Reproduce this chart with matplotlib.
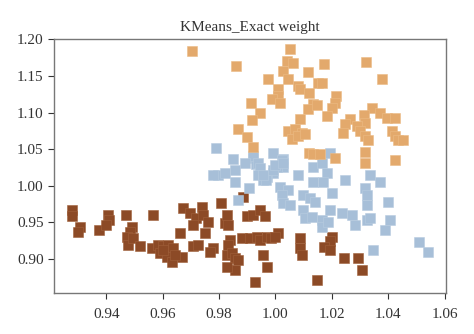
import matplotlib
matplotlib.use("Agg")
import matplotlib.pyplot as plt
import numpy as np

# cluster 0 (brown, low weight)
brown_x = [0.9277, 0.9277, 0.9307, 0.9301, 0.9375, 0.9407, 0.9410, 0.9401, 0.9470,
           0.9490, 0.9484, 0.9472, 0.9478, 0.9496, 0.9520, 0.9565,
           0.9561, 0.9584, 0.9602, 0.9620, 0.9638, 0.9590, 0.9614, 0.9632, 0.9667, 0.9602, 0.9644,
           0.9661, 0.9673, 0.9697, 0.9738, 0.9720, 0.9744, 0.9762, 0.9709,
           0.9750, 0.9709, 0.9726, 0.9779, 0.9768, 0.9806, 0.9821, 0.9827, 0.9833,
           0.9838, 0.9833, 0.9827, 0.9845, 0.9856, 0.9868, 0.9856, 0.9827, 0.9886,
           0.9898, 0.9921, 0.9945, 0.9963, 0.9880, 0.9910, 0.9933, 0.9945, 0.9969, 0.9986,
           1.0009, 0.9998, 0.9955, 0.9970, 0.9927, 1.0087, 1.0087, 1.0093, 1.0147,
           1.0200, 1.0194, 1.0171, 1.0194, 1.0244, 1.0294, 1.0306]
brown_y = [0.967, 0.958, 0.944, 0.937, 0.939, 0.960, 0.953, 0.9465, 0.960,
           0.944, 0.937, 0.930, 0.919, 0.928, 0.918, 0.960,
           0.915, 0.919, 0.917, 0.919, 0.915, 0.908, 0.903, 0.896, 0.903, 0.912, 0.9055,
           0.935, 0.969, 0.9625, 0.9715, 0.9556, 0.960, 0.951, 0.9465,
           0.935, 0.917, 0.919, 0.9146, 0.910, 0.977, 0.949, 0.960, 0.9465,
           0.926, 0.919, 0.9055, 0.908, 0.901, 0.899, 0.885, 0.8895, 0.985,
           0.958, 0.960, 0.967, 0.958, 0.928, 0.928, 0.9305, 0.926, 0.9305, 0.928,
           0.935, 0.9305, 0.9055, 0.8895, 0.869, 0.928, 0.9146, 0.9055, 0.871,
           0.9305, 0.924, 0.916, 0.912, 0.901, 0.901, 0.885]

# cluster 1 (blue, middle)
blue_x = [0.9790, 0.9850, 0.9921, 0.9992, 1.0028, 0.9932, 1.0195, 0.9921, 0.9939, 0.9945,
          1.0023, 1.0028, 1.0005, 0.9993, 0.9970, 0.9939, 0.9957, 1.0081,
          1.0134, 1.0164, 1.0182, 1.0170, 1.0134, 1.0247, 1.0336, 1.0371,
          1.0318, 1.0324, 1.0324, 1.0400, 1.0200, 1.0099, 1.0123, 1.0141,
          1.0017, 1.0046, 1.0023, 1.0028, 1.0052, 1.0099, 1.0105, 1.0129,
          1.0164, 1.0164, 1.0188, 1.0195, 1.0235, 1.0270, 1.0283,
          1.0324, 1.0336, 1.0406, 1.0388, 1.0347, 1.0510, 1.0542,
          0.9797, 0.9821, 0.9856, 0.9856, 0.9891, 0.9968, 0.9992, 0.9999, 1.0028,
          0.9868, 0.9907, 0.9956, 0.9779]
blue_y = [1.052, 1.036, 1.0385, 1.0453, 1.0363, 1.0294, 1.0453, 1.040, 1.031, 1.024,
          1.035, 1.026, 1.026, 1.017, 1.0125, 1.0148, 1.008, 1.0148,
          1.026, 1.031, 1.017, 1.0057, 1.0057, 1.008, 1.0148, 1.0057,
          0.9966, 0.9875, 0.9738, 0.9781, 0.9898, 0.9875, 0.983, 0.9784,
          0.9988, 0.9943, 0.9875, 0.9761, 0.9738, 0.967, 0.9556, 0.9578,
          0.9533, 0.9442, 0.951, 0.967, 0.9625, 0.960, 0.9465,
          0.9533, 0.9556, 0.9533, 0.9397, 0.9123, 0.9237, 0.910,
          1.0148, 1.0171, 1.0216, 1.0057, 1.031, 1.008, 1.0216, 1.0285, 1.031,
          0.9806, 0.9966, 1.0148, 1.0148]

# cluster 2 (orange, high weight)
orange_x = [0.9703, 1.0050, 0.9860, 1.0040, 1.0064, 1.0028, 1.0115, 0.9973, 1.0046, 1.0081,
            1.0087, 1.0119, 1.0009, 1.0009, 0.9988, 1.0017, 0.9914, 1.0134, 1.0117, 0.9947,
            0.9918, 1.0087, 0.9868, 0.9898, 0.9921,
            1.0046, 1.0070, 1.0094, 1.0058, 1.0081, 1.0105,
            1.0118, 1.0135, 1.0158, 1.0212,
            1.0150, 1.0174, 1.0321, 1.0378, 1.0165, 1.0214, 1.0212, 1.0200, 1.0147, 1.0182,
            1.0343, 1.0371, 1.0394, 1.0424, 1.0315, 1.0317, 1.0265, 1.0247, 1.0241,
            1.0288, 1.0300, 1.0318, 1.0330, 1.0412, 1.0424, 1.0436, 1.0453,
            1.0318, 1.0318, 1.0424]
orange_y = [1.184, 1.187, 1.164, 1.171, 1.168, 1.157, 1.155, 1.146, 1.1456, 1.1365,
            1.132, 1.1265, 1.132, 1.1228, 1.118, 1.1136, 1.1136, 1.1114, 1.1046, 1.099,
            1.090, 1.0918, 1.0773, 1.0672, 1.053,
            1.075, 1.0773, 1.0727, 1.0636, 1.068, 1.0703,
            1.0445, 1.044, 1.043, 1.0385,
            1.141, 1.167, 1.169, 1.1464, 1.140, 1.1228, 1.1136, 1.1068, 1.110, 1.0955,
            1.1068, 1.099, 1.093, 1.093, 1.0964, 1.0855, 1.0918, 1.084, 1.0727,
            1.0818, 1.075, 1.068, 1.0627, 1.075, 1.068, 1.0627, 1.0627,
            1.0463, 1.0316, 1.0353]

plt.rcParams['font.family'] = ['Liberation Serif', 'DejaVu Serif']

fig = plt.figure(figsize=(4.74, 3.34), dpi=100)
ax = fig.add_axes([0.114, 0.123, 0.827, 0.759])

ax.scatter(brown_x, brown_y, marker='s', s=46, c='#8c4a26', edgecolors='#a0603a', linewidths=0.4)
ax.scatter(blue_x, blue_y, marker='s', s=46, c='#a7bfd8', edgecolors='#b8cce0', linewidths=0.4)
ax.scatter(orange_x, orange_y, marker='s', s=46, c='#e3a96c', edgecolors='#ecbb85', linewidths=0.4)

ax.set_xlim(0.9215, 1.0605)
ax.set_ylim(0.8535, 1.20)
ax.set_xticks(np.arange(0.94, 1.061, 0.02))
ax.set_yticks(np.arange(0.90, 1.201, 0.05))
ax.xaxis.set_major_formatter(matplotlib.ticker.FormatStrFormatter('%.2f'))
ax.yaxis.set_major_formatter(matplotlib.ticker.FormatStrFormatter('%.2f'))
ax.tick_params(labelsize=11, colors='#333333', length=4, direction='out')
ax.tick_params(axis='x', pad=7)
for sp in ax.spines.values():
    sp.set_color('#777777')
    sp.set_linewidth(1.0)

ax.set_title('KMeans_Exact weight', fontsize=11, color='#333333', pad=6)

fig.savefig('out.png', dpi=100)
